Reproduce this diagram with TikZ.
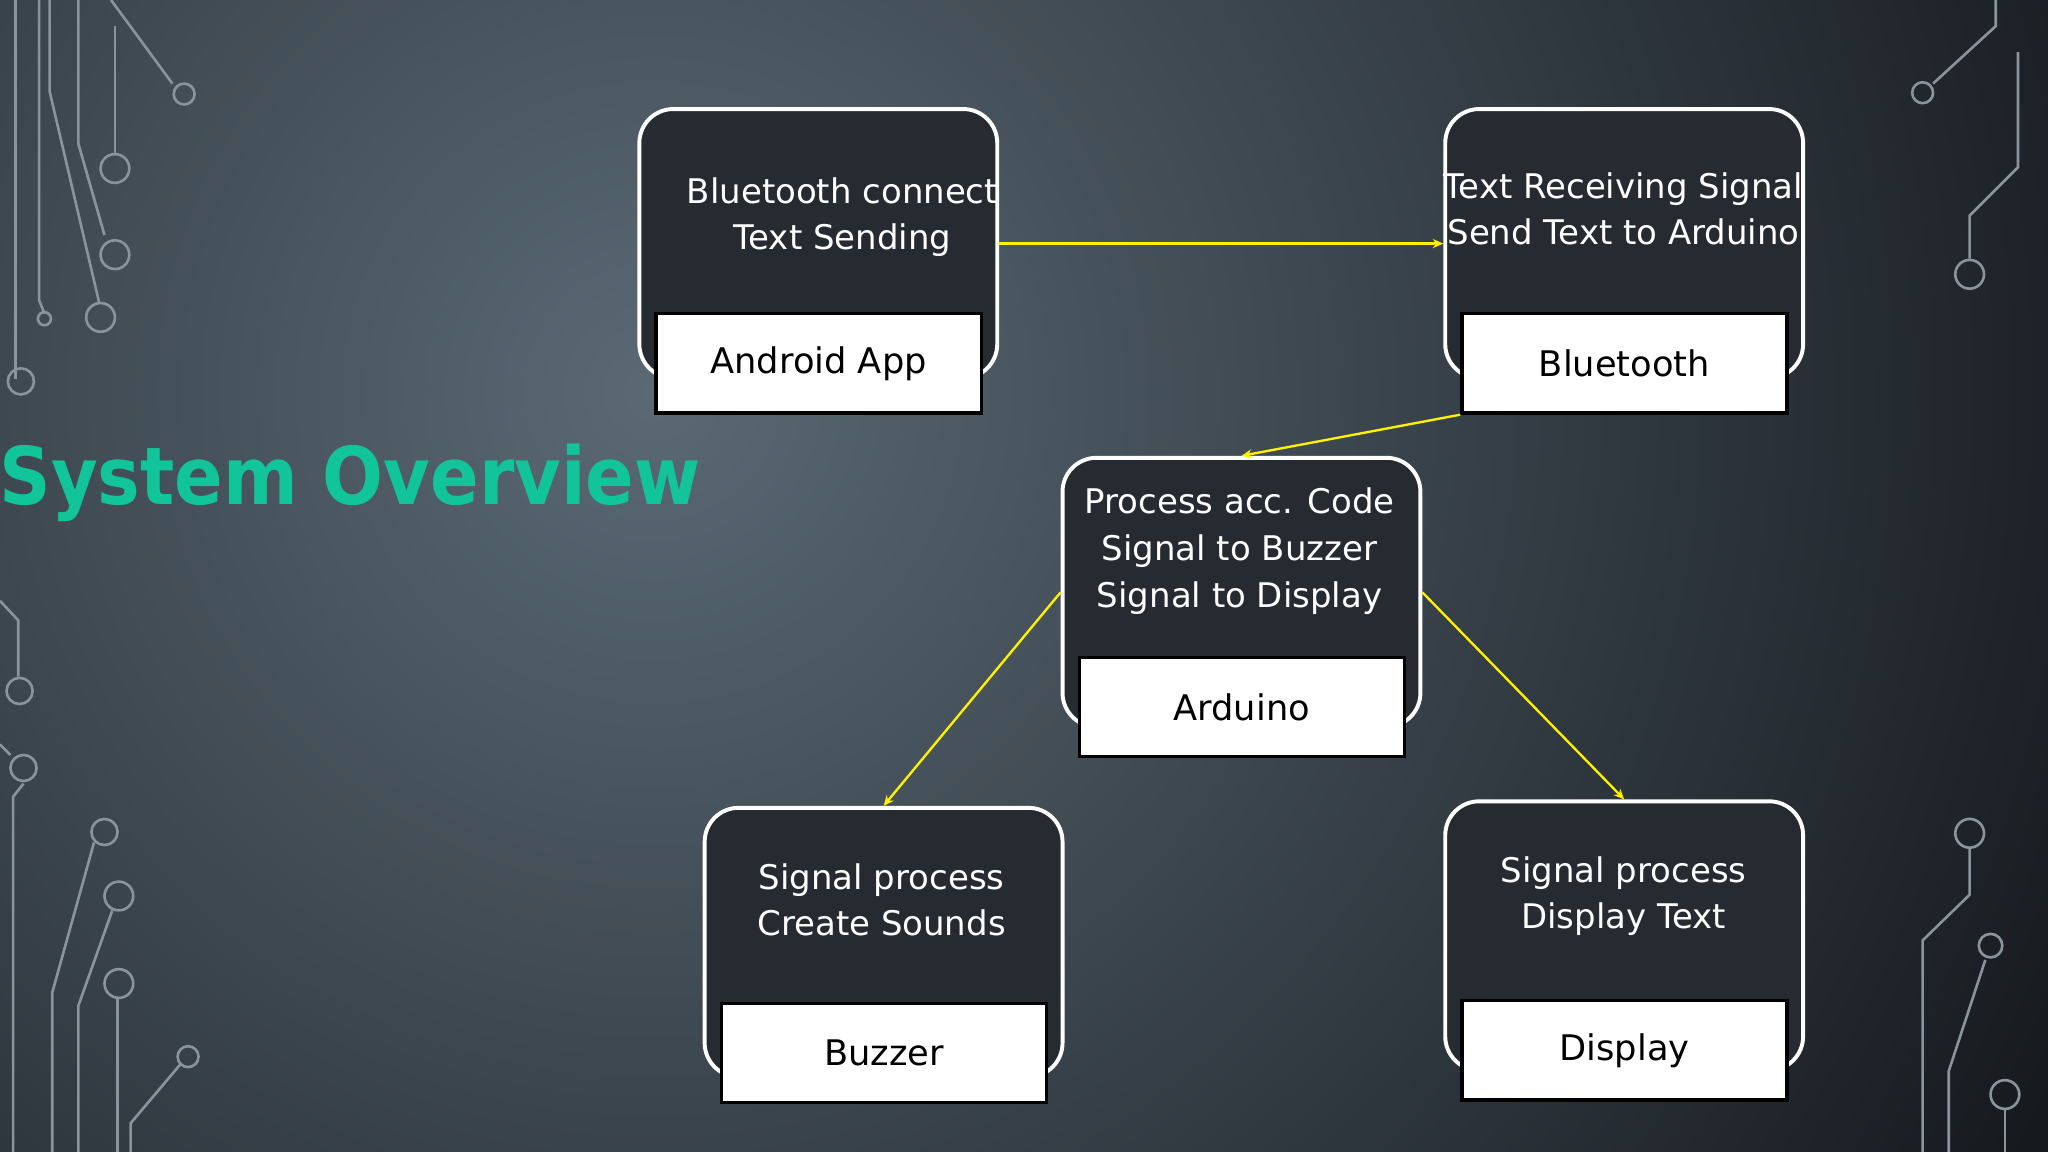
\documentclass[tikz,border=0pt]{standalone}
\usepackage{fontspec}
\setmainfont{DejaVu Sans}
\newfontfamily\titlef{DejaVu Sans Condensed Bold}
\usetikzlibrary{arrows.meta}
\definecolor{bgA}{HTML}{5A6974}
\definecolor{bgB}{HTML}{161A1F}
\definecolor{boxc}{HTML}{262A31}
\definecolor{teal}{HTML}{12C49A}
\definecolor{circ}{HTML}{8A949C}
\begin{document}
\begin{tikzpicture}[x=1pt,y=-1pt,
  outer/.style={draw=white,line width=3pt,fill=boxc,rounded corners=26pt,minimum width=274pt,minimum height=206pt,anchor=north west},
  lab/.style={draw=black,line width=2.5pt,fill=white,minimum width=249pt,minimum height=76pt,anchor=north west,font=\fontsize{27}{30}\selectfont},
  txt/.style={text=white,align=center,font=\fontsize{26}{35}\selectfont},
  arr/.style={draw=yellow,line width=1.8pt,-{Stealth[length=8pt,width=7pt]}},
  ci/.style={draw=circ,line width=2pt}]
\useasboundingbox (0,0) rectangle (1568,882);
\shade[inner color=bgA,outer color=bgB] (-700,-900) rectangle (1700,1500);
% circuit decorations
\draw[ci] (12,0)--(12,290); \draw[ci] (16,292) circle (10);
\draw[ci] (30,0)--(30,230)--(34,240); \draw[ci] (34,244) circle (5);
\draw[ci] (38,0)--(38,70)--(76,232); \draw[ci] (77,243) circle (11);
\draw[ci] (60,0)--(60,110)--(80,180); \draw[ci] (88,195) circle (11);
\draw[ci] (88,20)--(88,118); \draw[ci] (88,129) circle (11);
\draw[ci] (85,0)--(132,64); \draw[ci] (141,72) circle (8);
\draw[ci] (0,460)--(14,475)--(14,518); \draw[ci] (15,529) circle (10);
\draw[ci] (0,570)--(8,578); \draw[ci] (18,588) circle (10);
\draw[ci] (10,882)--(10,610)--(18,600);
\draw[ci] (40,882)--(40,760)--(72,645); \draw[ci] (80,637) circle (10);
\draw[ci] (60,882)--(60,770)--(86,697); \draw[ci] (91,686) circle (11);
\draw[ci] (90,882)--(90,764); \draw[ci] (91,753) circle (11);
\draw[ci] (100,882)--(100,860)--(138,815); \draw[ci] (144,809) circle (8);
\draw[ci] (1528,0)--(1528,20)--(1480,64); \draw[ci] (1472,71) circle (8);
\draw[ci] (1545,40)--(1545,128)--(1508,165)--(1508,198); \draw[ci] (1508,210) circle (11);
\draw[ci] (1472,882)--(1472,720)--(1508,685)--(1508,650); \draw[ci] (1508,638) circle (11);
\draw[ci] (1492,882)--(1492,820)--(1520,735); \draw[ci] (1524,724) circle (9);
\draw[ci] (1535,882)--(1535,850); \draw[ci] (1535,838) circle (11);
% title
\node[anchor=west,text=teal,font=\titlef\fontsize{61}{70}\selectfont] (title) at (-4,370) {System Overview};
% boxes
\node[outer] (a) at (488,82) {};
\node[lab] (al) at (501,239) {Android App};
\node[txt] (at) at (645,166) {Bluetooth connect\\Text Sending};
\node[outer] (b) at (1105,82) {};
\node[lab] (bl) at (1118,239) {Bluetooth};
\node[txt] (bt) at (1243,160) {Text Receiving Signal\\Send Text to Arduino};
\node[outer] (c) at (812,349) {};
\node[lab] (cl) at (825,502) {Arduino};
\node[txt,font=\fontsize{26}{36}\selectfont] (ct) at (949,422) {Process acc. Code\\Signal to Buzzer\\Signal to Display};
\node[outer] (d) at (538,617) {};
\node[lab] (dl) at (551,767) {Buzzer};
\node[txt] (dt) at (675,689) {Signal process\\Create Sounds};
\node[outer] (e) at (1105,612) {};
\node[lab] (el) at (1118,765) {Display};
\node[txt] (et) at (1243,686) {Signal process\\Display Text};
% connectors
\draw[arr] (a.east) -- (b.west);
\draw[arr] (bl.south west) -- (c.north);
\draw[arr] (c.west) -- (d.north);
\draw[arr] (c.east) -- (e.north);
\end{tikzpicture}
\end{document}
